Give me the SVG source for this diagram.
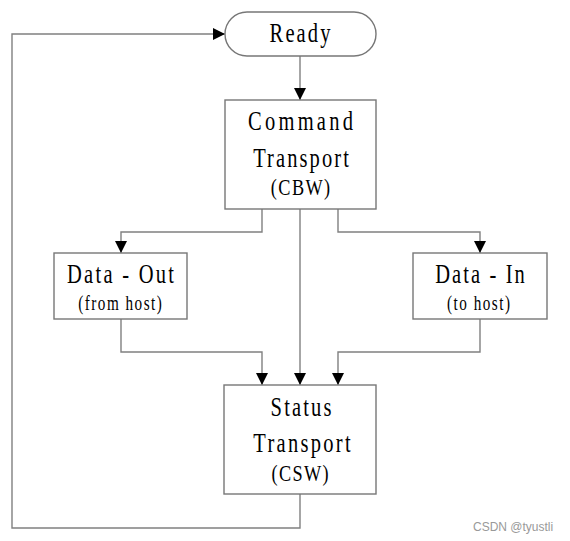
<svg xmlns="http://www.w3.org/2000/svg" width="570" height="541" viewBox="0 0 570 541">
<style>
.box{fill:#fff;stroke:#777;stroke-width:1.4}
.ln{fill:none;stroke:#808080;stroke-width:1.4}
.t{font-family:"Liberation Serif","Times New Roman",serif;fill:#000;text-anchor:middle}
.big{font-size:27px}
.mid{font-size:24px}
.sm{font-size:20px}
.wm{font-family:"Liberation Sans",Arial,sans-serif;font-size:12px;fill:#999}
</style>
<defs>
<marker id="ah" viewBox="0 0 12 12" refX="12" refY="6" markerWidth="12" markerHeight="12" markerUnits="userSpaceOnUse" orient="auto">
<path d="M0,0 L12,6 L0,12 z" fill="#000"/>
</marker>
</defs>
<rect width="570" height="541" fill="#fff"/>
<g id="connectors">
<path class="ln" d="M300,56 V100" marker-end="url(#ah)"/>
<path class="ln" d="M262,209 V232 H121 V253" marker-end="url(#ah)"/>
<path class="ln" d="M300,209 V385" marker-end="url(#ah)"/>
<path class="ln" d="M338,209 V232 H480 V253" marker-end="url(#ah)"/>
<path class="ln" d="M121,319 V352 H262 V385" marker-end="url(#ah)"/>
<path class="ln" d="M480,319 V352 H338 V385" marker-end="url(#ah)"/>
<path class="ln" d="M300,494 V528 H12 V34 H225" marker-end="url(#ah)"/>
</g>
<g id="ready">
<rect class="box" x="225" y="12" width="151" height="44" rx="22" ry="22"/>
<text class="t big" transform="translate(300,42) scale(0.76,1)" textLength="80" lengthAdjust="spacing">Ready</text>
</g>
<g id="command">
<rect class="box" x="225" y="100" width="151" height="109"/>
<text class="t big" transform="translate(300.5,130) scale(0.76,1)" textLength="138" lengthAdjust="spacing">Command</text>
<text class="t big" transform="translate(301,167) scale(0.76,1)" textLength="126" lengthAdjust="spacing">Transport</text>
<text class="t mid" transform="translate(300.5,195) scale(0.76,1)" textLength="78" lengthAdjust="spacing">(CBW)</text>
</g>
<g id="dataout">
<rect class="box" x="54" y="253" width="133" height="66"/>
<text class="t big" transform="translate(120.5,283) scale(0.76,1)" textLength="141" lengthAdjust="spacing">Data - Out</text>
<text class="t sm" transform="translate(120,310) scale(0.76,1)" textLength="110" lengthAdjust="spacing">(from host)</text>
</g>
<g id="datain">
<rect class="box" x="413" y="253" width="134" height="66"/>
<text class="t big" transform="translate(480,283) scale(0.76,1)" textLength="118" lengthAdjust="spacing">Data - In</text>
<text class="t sm" transform="translate(478.5,310) scale(0.76,1)" textLength="83" lengthAdjust="spacing">(to host)</text>
</g>
<g id="status">
<rect class="box" x="224" y="385" width="152" height="109"/>
<text class="t big" transform="translate(301,416) scale(0.76,1)" textLength="80" lengthAdjust="spacing">Status</text>
<text class="t big" transform="translate(302,452) scale(0.76,1)" textLength="128" lengthAdjust="spacing">Transport</text>
<text class="t mid" transform="translate(300,481) scale(0.76,1)" textLength="75" lengthAdjust="spacing">(CSW)</text>
</g>
<text class="wm" x="473" y="531">CSDN @tyustli</text>
</svg>
